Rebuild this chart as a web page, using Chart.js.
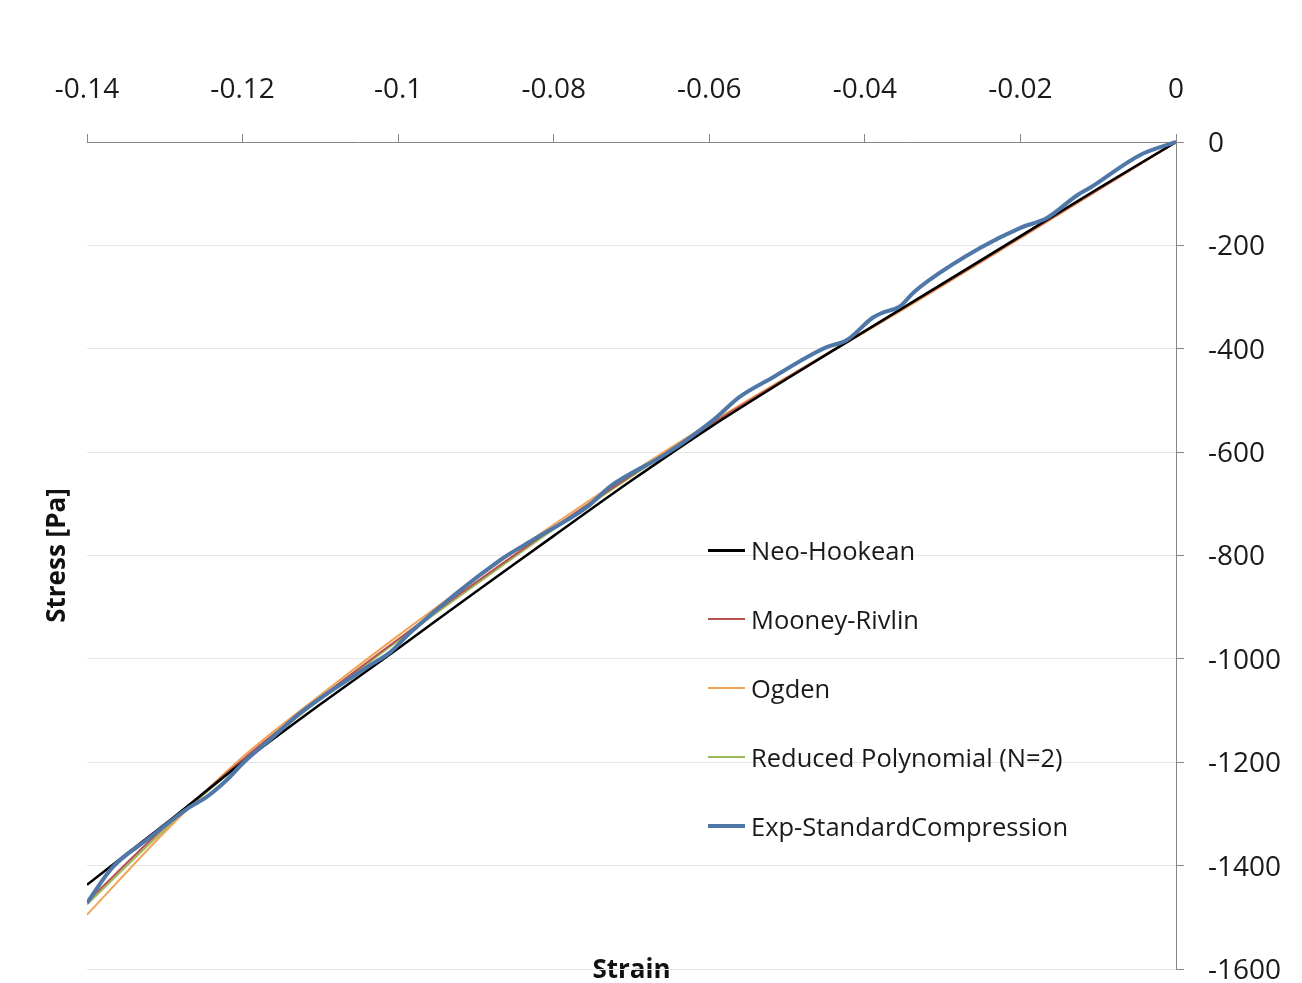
<!DOCTYPE html>
<html>
<head>
<meta charset="utf-8">
<script src="https://cdn.jsdelivr.net/npm/chart.js@4.4.1/dist/chart.umd.min.js"></script>
<style>
  body { margin: 0; background: #fff; }
  #wrap { position: relative; width: 1302px; height: 983px; }
  #legend { position: absolute; left: 708px; top: 0; font-family: 'Open Sans', sans-serif; font-size: 25.5px; color: #1a1a1a; }
  .item { position: absolute; left: 0; white-space: nowrap; display: flex; align-items: center; height: 34px; }
  .swatch { width: 37px; margin-right: 6px; }
</style>
</head>
<body>
<div id="wrap">
  <canvas id="chart" width="1302" height="983"></canvas>
  <div id="legend"></div>
</div>
<script>
// strain values used for the fitted model curves
var strain = [0, -0.01, -0.02, -0.03, -0.04, -0.05, -0.06, -0.07, -0.08, -0.09, -0.10, -0.11, -0.12, -0.13, -0.14];

var neoHookean    = [0, -90, -182, -274, -366, -458, -553, -655, -762, -870, -980, -1088, -1200, -1320, -1437];
var mooneyRivlin  = [0, -92, -184, -276, -366, -456, -548, -645, -746, -852, -962, -1075, -1195, -1325, -1470];
var ogden         = [0, -93, -186, -278, -368, -455, -545, -640, -740, -845, -955, -1070, -1190, -1335, -1495];
var reducedPoly   = [0, -91, -183, -275, -366, -456, -549, -647, -749, -856, -965, -1078, -1198, -1330, -1475];

// measured compression data
var expStrain = [0, -0.0046, -0.0111, -0.0127, -0.0166, -0.0200, -0.0252, -0.0320, -0.0338, -0.0355, -0.0377, -0.0390,
                 -0.0423, -0.0449, -0.0474, -0.0518, -0.0561, -0.0595, -0.0654, -0.0728, -0.0757, -0.0827, -0.0869,
                 -0.0985, -0.1010, -0.1040, -0.1126, -0.1160, -0.1199, -0.1220, -0.1246, -0.1268, -0.1323, -0.1367, -0.1400];
var expStress = [0, -25, -89, -103, -147, -166, -205, -270, -292, -318, -330, -340,
                 -383, -397, -416, -455, -493, -538, -602, -667, -706, -770, -809,
                 -950, -987, -1016, -1105, -1150, -1201, -1234, -1267, -1287, -1350, -1403, -1472];

var seriesNames = ['Neo-Hookean', 'Mooney-Rivlin', 'Ogden', 'Reduced Polynomial (N=2)', 'Exp-StandardCompression'];
var seriesColors = ['#000000', '#b5524f', '#f2a356', '#9bbb59', '#4f77a8'];
var seriesWidths = [2.5, 2, 2, 2, 4];

function pairs(xs, ys) {
  return xs.map(function(x, i) { return { x: x, y: ys[i] }; });
}

var modelData = [neoHookean, mooneyRivlin, ogden, reducedPoly];
var datasets = modelData.map(function(vals, i) {
  return {
    label: seriesNames[i],
    data: pairs(strain, vals),
    borderColor: seriesColors[i],
    borderWidth: seriesWidths[i],
    showLine: true,
    pointRadius: 0,
    tension: 0.3,
    order: i + 1
  };
});
datasets.push({
  label: seriesNames[4],
  data: pairs(expStrain, expStress),
  borderColor: seriesColors[4],
  borderWidth: seriesWidths[4],
  showLine: true,
  pointRadius: 0,
  cubicInterpolationMode: 'monotone',
  order: 0
});

var axisGray = '#868686';
var tickFont = { family: "'Open Sans', sans-serif", size: 28 };
var titleFont = { family: "'Open Sans', sans-serif", size: 26, weight: 'bold' };

new Chart(document.getElementById('chart').getContext('2d'), {
  type: 'scatter',
  data: { datasets: datasets },
  options: {
    responsive: false,
    animation: false,
    layout: { padding: 0 },
    plugins: { legend: { display: false }, tooltip: { enabled: false } },
    scales: {
      x: {
        type: 'linear',
        position: 'top',
        min: -0.14,
        max: 0,
        ticks: {
          stepSize: 0.02,
          font: tickFont,
          color: '#1a1a1a',
          padding: 27,
          maxRotation: 0,
          callback: function(v) { return String(parseFloat(Number(v).toFixed(2))); }
        },
        grid: { drawOnChartArea: false, tickLength: 8, tickColor: axisGray },
        border: { color: axisGray, width: 1 },
        afterFit: function(s) { s.height = 142; s.paddingLeft = 0; s.paddingRight = 0; }
      },
      xBottom: {
        type: 'linear',
        position: 'bottom',
        ticks: { display: false },
        grid: { display: false },
        border: { display: false },
        title: { display: true, text: 'Strain', font: titleFont, color: '#111', padding: { top: 0, bottom: -3 } },
        afterFit: function(s) { s.height = 14; s.paddingLeft = 0; s.paddingRight = 0; }
      },
      yLeft: {
        type: 'linear',
        position: 'left',
        ticks: { display: false },
        grid: { display: false },
        border: { display: false },
        title: { display: true, text: 'Stress [Pa]', font: titleFont, color: '#111', padding: { top: 42, bottom: 0 } },
        afterFit: function(s) { s.width = 87; s.paddingTop = 0; s.paddingBottom = 0; }
      },
      y: {
        type: 'linear',
        position: 'right',
        min: -1600,
        max: 0,
        ticks: {
          stepSize: 200,
          font: tickFont,
          color: '#1a1a1a',
          padding: 24,
          labelOffset: 2,
          callback: function(v) { return String(v); }
        },
        grid: { color: '#e6e6e6', tickLength: 8, tickColor: axisGray },
        border: { color: axisGray, width: 1 },
        afterFit: function(s) { s.width = 126; s.paddingTop = 0; s.paddingBottom = 0; }
      }
    }
  }
});

// legend placed inside the plot, as in the original
var legendY = [550, 619, 688, 757, 826];
var legend = document.getElementById('legend');
seriesNames.forEach(function(name, i) {
  var item = document.createElement('div');
  item.className = 'item';
  item.style.top = (legendY[i] - 17) + 'px';
  var sw = document.createElement('span');
  sw.className = 'swatch';
  sw.style.height = (i === 4 ? 4 : (i === 0 ? 3 : 2)) + 'px';
  sw.style.background = seriesColors[i];
  var txt = document.createElement('span');
  txt.textContent = name;
  item.appendChild(sw);
  item.appendChild(txt);
  legend.appendChild(item);
});
</script>
</body>
</html>
